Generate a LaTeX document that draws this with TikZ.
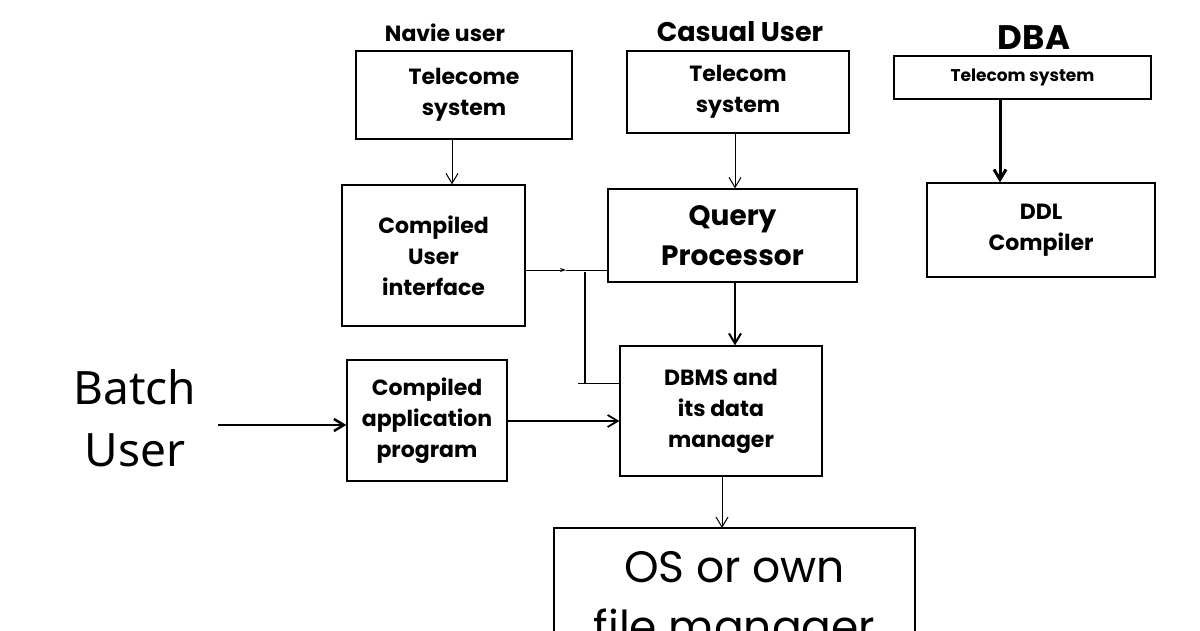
\documentclass[tikz,border=0pt]{standalone}
\usepackage{fontspec}
\setmainfont{Poppins}
\newfontfamily\bufont{Noto Sans}
\usetikzlibrary{arrows.meta}
\begin{document}
\begin{tikzpicture}[x=1pt,y=-1pt,
 box/.style={draw,line width=1.3pt,inner sep=0pt,align=center},
 bt/.style={font=\fontsize{22}{31}\selectfont\bfseries},
 ar/.style={-{Straight Barb[length=10pt,width=12pt]},line width=1.3pt}]
\useasboundingbox (0,0) rectangle (1200,630);
\fill[white] (0,0) rectangle (1200,630);
\node[font=\fontsize{22}{26}\selectfont\bfseries] (nl) at (445,33) {Navie user};
\node[font=\fontsize{27}{30}\selectfont\bfseries] (cl) at (740,32) {Casual User};
\node[font=\fontsize{34}{38}\selectfont\bfseries] (dl) at (1034,38) {DBA};
\node[box,minimum width=216pt,minimum height=88pt,bt] (nb) at (464,95) {Telecome\\system};
\node[box,minimum width=222pt,minimum height=82pt,bt] (cb) at (738,92) {Telecom\\system};
\node[box,minimum width=257pt,minimum height=43pt,font=\fontsize{17}{20}\selectfont\bfseries] (db) at (1022.5,77.5) {Telecom system};
\node[box,minimum width=183pt,minimum height=141pt,bt] (cui) at (433.5,255.5) {Compiled\\User\\interface};
\node[box,minimum width=249pt,minimum height=93pt,font=\fontsize{28}{40}\selectfont\bfseries] (qp) at (732.5,235.5) {Query\\Processor};
\node[box,minimum width=228pt,minimum height=94pt,bt] (ddl) at (1041,230) {DDL\\Compiler};
\node[box,minimum width=160pt,minimum height=121pt,bt] (app) at (427,420.5) {Compiled\\application\\program};
\node[box,minimum width=202pt,minimum height=130pt,bt] (dbms) at (721,411) {DBMS and\\its data\\manager};
\draw[line width=1.5pt] (554,640) -- (554,528) -- (915,528) -- (915,640);
\node[font=\fontsize{44}{60}\selectfont,align=center,anchor=north] (os) at (734.5,548) {OS or own\\file manager};
\node[font=\bufont\fontsize{46}{62}\selectfont,align=center] (bu) at (135,418) {Batch\\User};
\draw[ar,line width=1pt] (nb.south -| 452,0) -- (cui.north -| 452,0);
\draw[ar,line width=1pt] (cb.south -| 735,0) -- (qp.north -| 735,0);
\draw[ar,line width=3pt] (db.south -| 1000,0) -- (ddl.north -| 1000,0);
\draw[ar,line width=2pt] (qp.south -| 735,0) -- (dbms.north -| 735,0);
\draw[ar,line width=2.5pt] (218,425) -- (app.west |- 0,425);
\draw[ar,line width=1.8pt] (app.east |- 0,421) -- (dbms.west |- 0,421);
\draw[ar,line width=1pt] (dbms.south -| 722,0) -- (722,528);
\coordinate (j1) at (608,270);
\coordinate (j2) at (585,272);
\coordinate (j3) at (585,383);
\draw[-{Stealth[length=6pt,width=4pt]},line width=0.8pt] (cui.east |- 0,270) -- (566,270);
\draw[line width=0.8pt] (566,270) -- (j1);
\draw[line width=2.5pt] (j2) -- (j3);
\draw[line width=0.8pt] (578,383) -- (dbms.west |- j3);
\end{tikzpicture}
\end{document}
